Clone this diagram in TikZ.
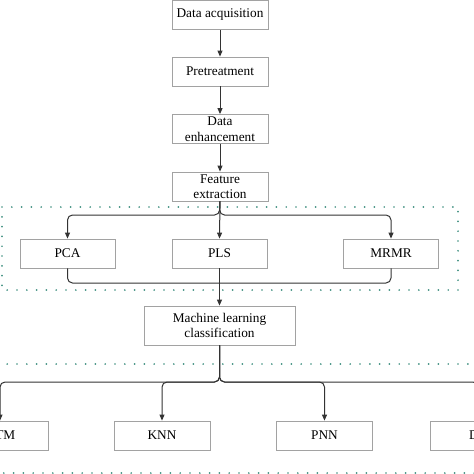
\documentclass[tikz,border=0pt]{standalone}
\usepackage{fontspec}
\setmainfont{Liberation Serif}
\usetikzlibrary{arrows.meta}
\definecolor{boxgray}{HTML}{A2A2A2}
\definecolor{linegray}{HTML}{333333}
\definecolor{dotteal}{HTML}{3F8F80}

\begin{document}
\begin{tikzpicture}[x=1pt, y=-1pt,
    every node/.style={font=\fontsize{13.3}{15.5}\selectfont, text=black},
    stage/.style={draw=boxgray, line width=0.8pt, minimum width=96pt, minimum height=29pt, inner sep=0pt, align=center},
    arr/.style={draw=linegray, line width=1pt, -{Triangle[length=6pt, width=5pt]}},
    link/.style={draw=linegray, line width=1pt},
    group/.style={draw=dotteal, line width=1.9pt, line cap=round, dash pattern=on 0pt off 9.8pt}]
    \clip (0,0) rectangle (474,474);
    \node[stage] (acq) at (220,15) {Data acquisition};
    \node[stage] (pre) at (220,71.5) {Pretreatment};
    \node[stage] (enh) at (220,129) {Data\\enhancement};
    \node[stage] (fea) at (220,186.5) {Feature\\extraction};
    \node[stage, minimum width=95pt] (pca) at (67.5,253.5) {PCA};
    \node[stage, minimum width=95pt] (pls) at (219.5,253.5) {PLS};
    \node[stage, minimum width=95pt] (mrmr) at (391,253.5) {MRMR};
    \node[stage, minimum width=151pt, minimum height=39pt] (mlc) at (219.5,325.5) {Machine learning\\classification};
    \node[stage] (cls1) at (0,435.5) {};
    \node[anchor=east, inner sep=0pt] (cls1text) at (15.5,435.5) {TM};
    \node[stage] (knn) at (162,435.5) {KNN};
    \node[stage] (pnn) at (324.5,435.5) {PNN};
    \node[stage] (cls4) at (478,435.5) {};
    \node[anchor=west, inner sep=0pt] (cls4text) at (469,435.5) {D};
    \coordinate (split1) at (219.5,215);
    \coordinate (merge) at (219.5,283);
    \coordinate (split2) at (219.5,382);
        \draw[group] (2,207) rectangle (458,290);
        \draw[group] (-4.8,364) rectangle (490,473);
        \draw[arr] (acq) -- (pre);
        \draw[arr] (pre) -- (enh);
        \draw[arr] (enh) -- (fea);
        \draw[arr] (fea.south) -- (pls.north);
        \draw[arr, rounded corners=5pt] (fea.south) -- (split1) -| (pca.north);
        \draw[arr, rounded corners=5pt] (fea.south) -- (split1) -| (mrmr.north);
        \draw[link, rounded corners=5pt] (pca.south) |- (merge);
        \draw[link, rounded corners=5pt] (mrmr.south) |- (merge);
        \draw[arr] (pls.south) -- (mlc.north);
        \draw[arr, rounded corners=5pt] (mlc.south) -- (split2) -| (cls1.north);
        \draw[arr, rounded corners=5pt] (mlc.south) -- (split2) -| (knn.north);
        \draw[arr, rounded corners=5pt] (mlc.south) -- (split2) -| (pnn.north);
        \draw[arr, rounded corners=5pt] (mlc.south) -- (split2) -| (cls4.north);
\end{tikzpicture}
\end{document}
